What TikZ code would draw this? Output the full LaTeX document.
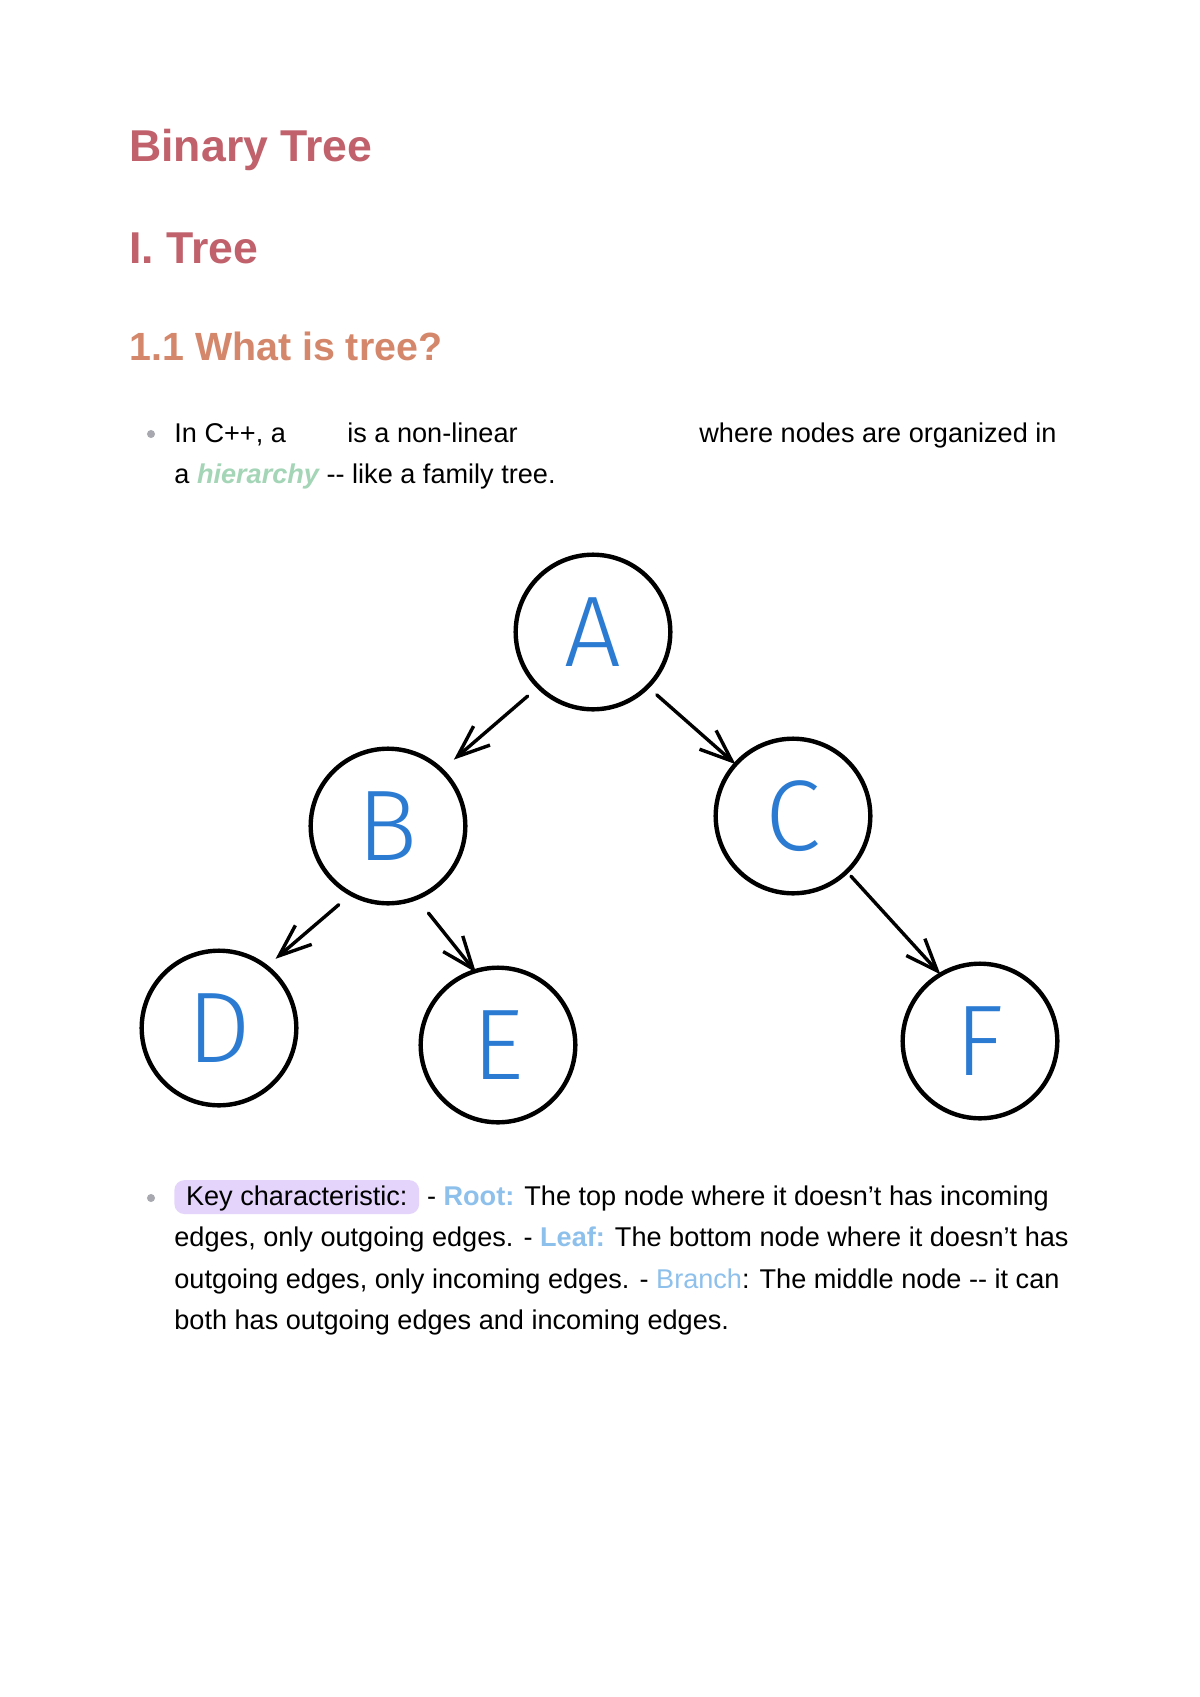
\documentclass[tikz,border=0pt]{standalone}
\usepackage{fontspec}
\setmainfont{Liberation Sans}
\newfontfamily\handfont{Fira Sans Light}
\usepackage{tikz}
\usetikzlibrary{arrows.meta,positioning}
\definecolor{titlered}{HTML}{C0616B}
\definecolor{secorange}{HTML}{D4876A}
\definecolor{hiergreen}{HTML}{A3D5B6}
\definecolor{termblue}{HTML}{8EC0EC}
\definecolor{keypurple}{HTML}{E4D4FB}
\definecolor{bulletgray}{HTML}{A8A8B0}
\definecolor{letterblue}{HTML}{2B7BD3}

\begin{document}
\begin{tikzpicture}[x=0.0175cm,y=-0.0175cm,
  every node/.style={font=\fontsize{13.5}{16}\selectfont,inner sep=0pt,anchor=base west},
  treenode/.style={draw,circle,line width=2.2pt,minimum size=77pt,anchor=center,text=letterblue,font=\handfont\fontsize{50}{50}\selectfont},
  edge/.style={-{Straight Barb[length=16pt,width=12.5pt]},line width=1.7pt,line cap=round,shorten <=5pt,shorten >=2pt},
  bulletdot/.style={circle,fill=bulletgray,minimum size=4pt,anchor=center}]
\path[use as bounding box,fill=white] (0,0) rectangle (1200,1697);
% headings
\node[font=\bfseries\fontsize{22.2}{25}\selectfont,text=titlered] (title) at (129,161) {Binary Tree};
\node[font=\bfseries\fontsize{22.2}{25}\selectfont,text=titlered] (chapter) at (129,263) {I. Tree};
\node[font=\bfseries\fontsize{19.6}{23}\selectfont,text=secorange] (section) at (129,360) {1.1 What is tree?};
% first bullet
\node[bulletdot] (dotA) at (151,434) {};
\node (introa) at (174,442) {In C++, a};
\node (introb) at (347,442) {is a non-linear};
\node (introc) at (699,442) {where nodes are organized in};
\node (introd) at (174,483) {a \textcolor{hiergreen}{\bfseries\itshape hierarchy} -{}- like a family tree.};
% the tree
\node[treenode] (A) at (593,632) {A};
\node[treenode] (B) at (388,826) {B};
\node[treenode] (C) at (793,816) {C};
\node[treenode] (D) at (219,1028) {D};
\node[treenode] (E) at (498,1045) {E};
\node[treenode] (F) at (980,1041) {F};
\draw[edge,shorten <=6pt,shorten >=7pt] (A.225) -- (B.46);
\draw[edge,shorten >=-1pt] (A.315) -- (C.138);
\draw[edge,shorten <=7pt,shorten >=5pt] (B.241) -- (D.52);
\draw[edge,shorten <=8.5pt,shorten >=-2pt] (B.292) -- (E.108);
\draw[edge,shorten <=2pt,shorten >=-1pt] (C.314) -- (F.121);
% second bullet
\node[bulletdot] (dotB) at (151,1198) {};
\node[fill=keypurple,rounded corners=5pt,inner xsep=5.8pt,text height=12.4pt,text depth=4.5pt] (key) at (174,1205) {Key characteristic:};
\node (rootline) at ([xshift=3.5pt]key.base east) {- \textcolor{termblue}{\bfseries Root:} The top node where it doesn't has incoming};
\node (leafline) at (174,1246) {edges, only outgoing edges. - \textcolor{termblue}{\bfseries Leaf:} The bottom node where it doesn't has};
\node (branchline) at (174,1288) {outgoing edges, only incoming edges. - \textcolor{termblue}{Branch}: The middle node -{}- it can};
\node (bothline) at (174,1329) {both has outgoing edges and incoming edges.};
\end{tikzpicture}
\end{document}
